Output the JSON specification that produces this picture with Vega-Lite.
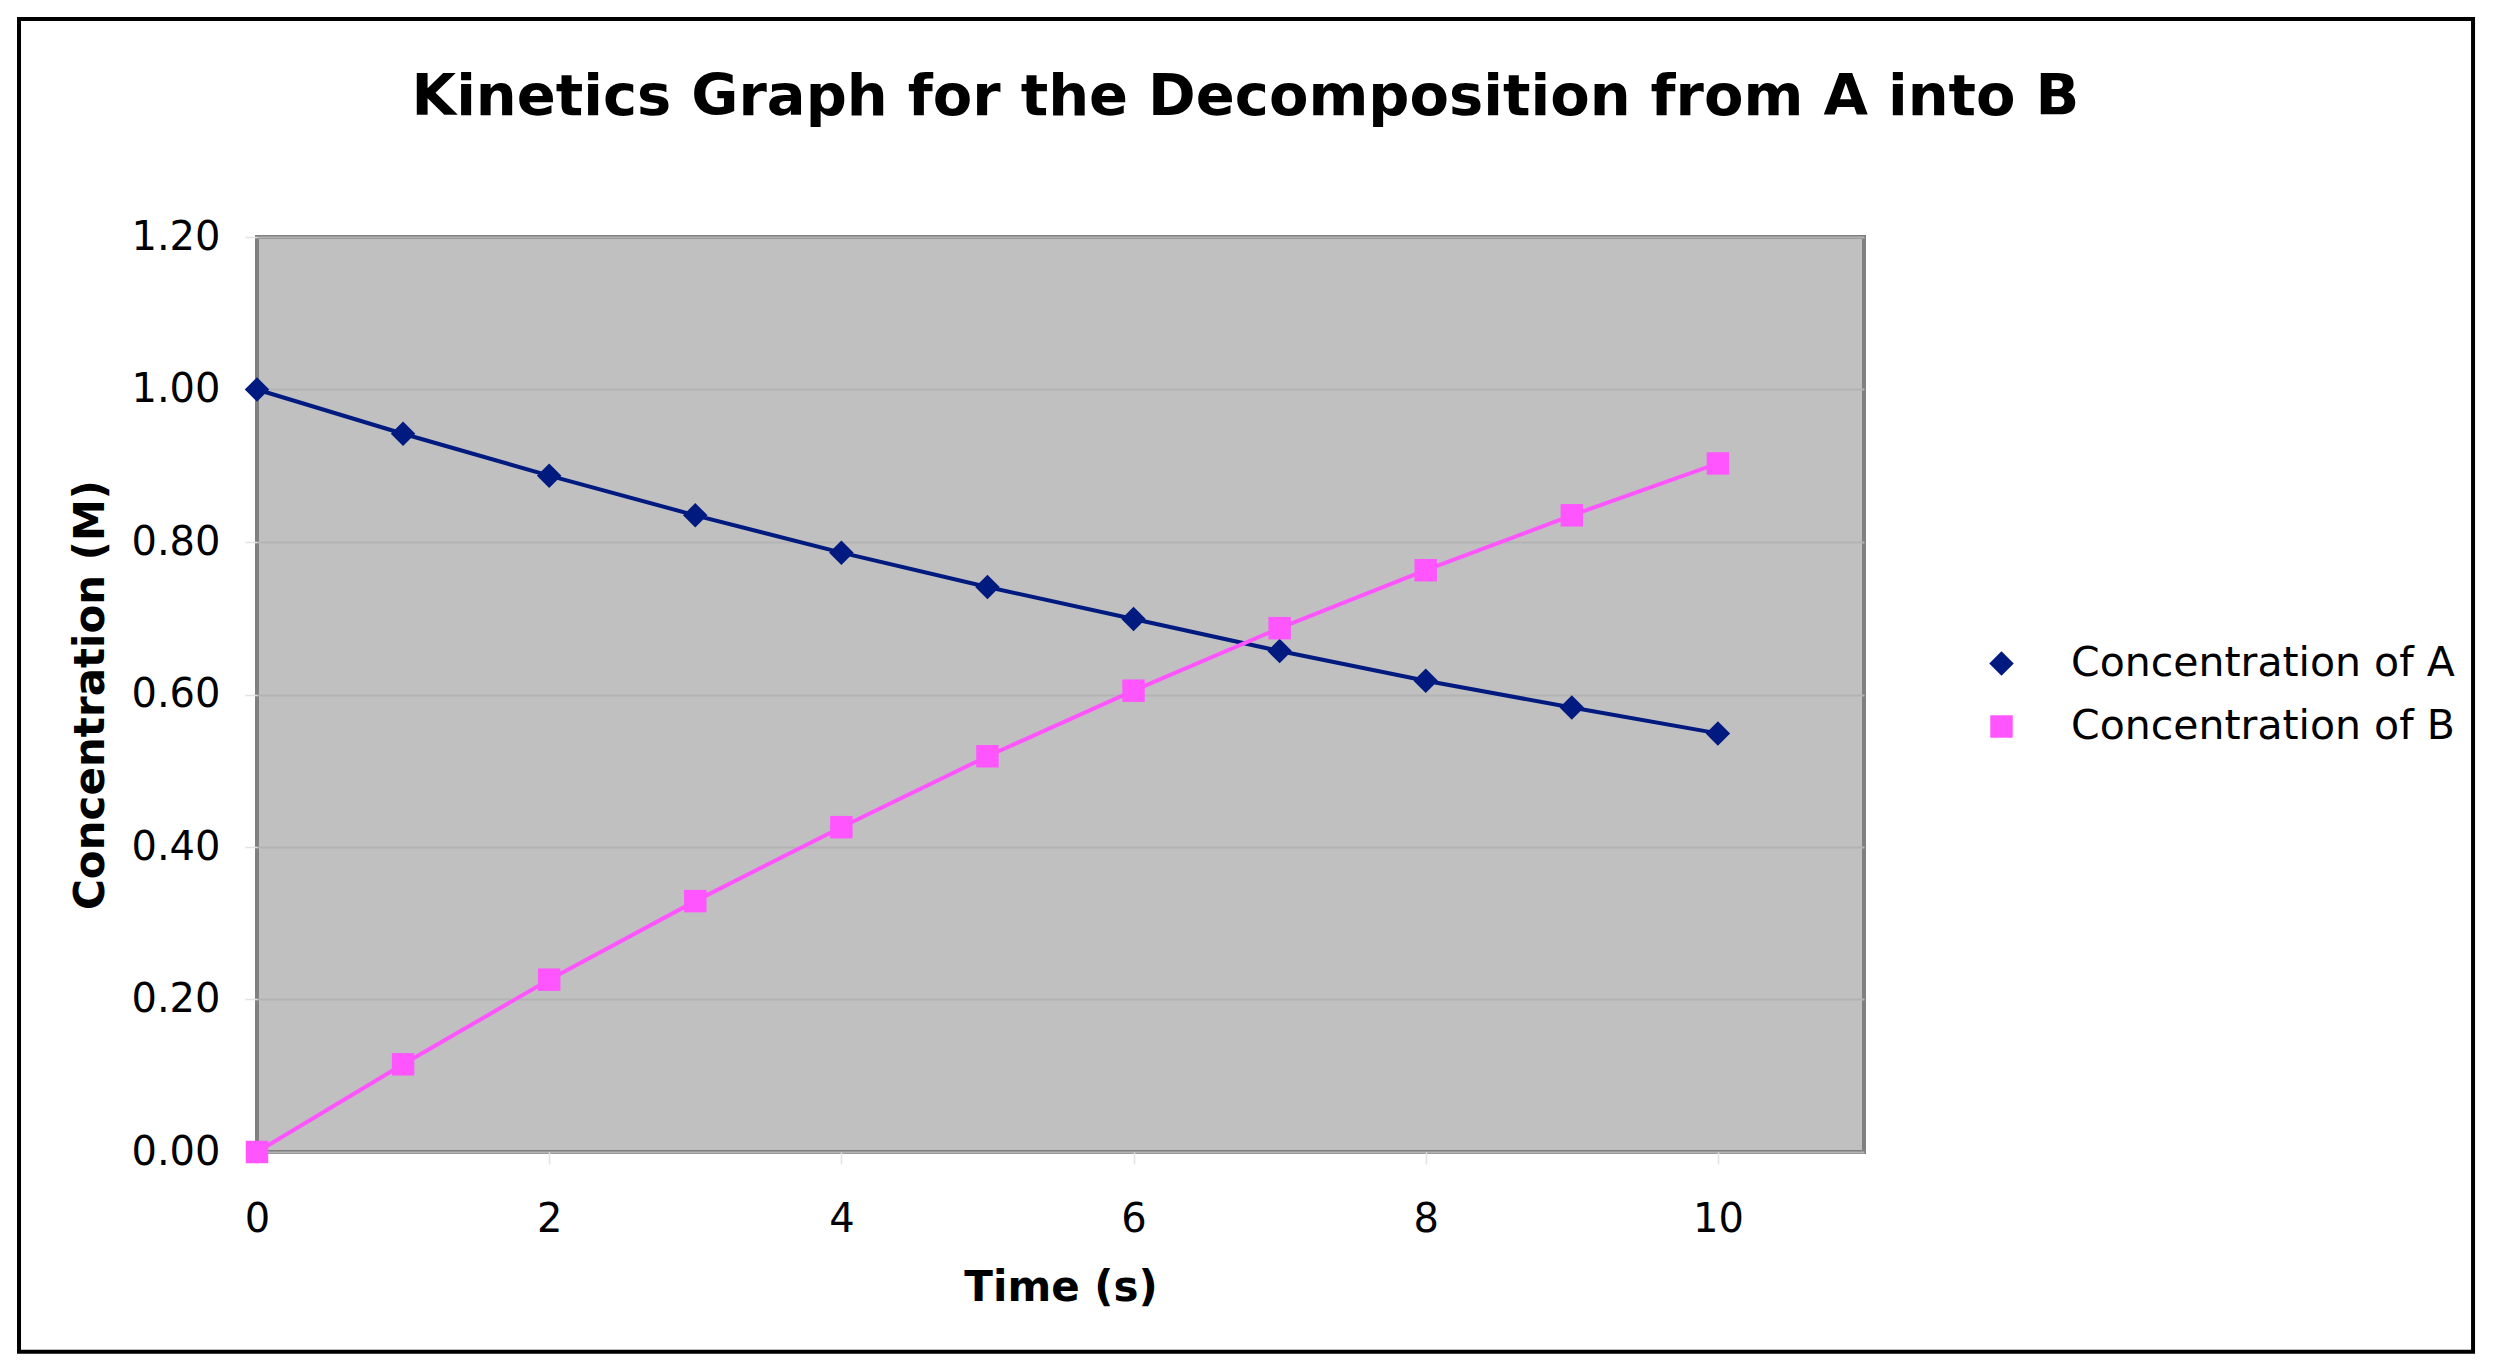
{
  "$schema": "https://vega.github.io/schema/vega-lite/v6.json",
  "width": 1607,
  "height": 915,
  "autosize": {"type": "none"},
  "padding": {"left": 257, "top": 237, "right": 629, "bottom": 220},
  "background": "white",
  "config": {
    "view": {"fill": "#C0C0C0", "stroke": "#808080", "strokeWidth": 4},
    "font": "DejaVu Sans"
  },
  "title": {
    "text": "Kinetics Graph for the Decomposition from A into B",
    "font": "DejaVu Sans",
    "fontSize": 57.5,
    "fontWeight": "bold",
    "color": "black",
    "anchor": "middle",
    "frame": "group",
    "dx": 185,
    "dy": 156,
    "offset": 0,
    "baseline": "alphabetic"
  },
  "data": {
    "values": [
      {"t": 0, "series": "Concentration of A", "c": 1.0},
      {"t": 1, "series": "Concentration of A", "c": 0.942},
      {"t": 2, "series": "Concentration of A", "c": 0.887},
      {"t": 3, "series": "Concentration of A", "c": 0.835},
      {"t": 4, "series": "Concentration of A", "c": 0.786},
      {"t": 5, "series": "Concentration of A", "c": 0.741},
      {"t": 6, "series": "Concentration of A", "c": 0.699},
      {"t": 7, "series": "Concentration of A", "c": 0.657},
      {"t": 8, "series": "Concentration of A", "c": 0.618},
      {"t": 9, "series": "Concentration of A", "c": 0.583},
      {"t": 10, "series": "Concentration of A", "c": 0.549},
      {"t": 0, "series": "Concentration of B", "c": 0.0},
      {"t": 1, "series": "Concentration of B", "c": 0.115},
      {"t": 2, "series": "Concentration of B", "c": 0.226},
      {"t": 3, "series": "Concentration of B", "c": 0.329},
      {"t": 4, "series": "Concentration of B", "c": 0.426},
      {"t": 5, "series": "Concentration of B", "c": 0.519},
      {"t": 6, "series": "Concentration of B", "c": 0.605},
      {"t": 7, "series": "Concentration of B", "c": 0.687},
      {"t": 8, "series": "Concentration of B", "c": 0.763},
      {"t": 9, "series": "Concentration of B", "c": 0.835},
      {"t": 10, "series": "Concentration of B", "c": 0.903}
    ]
  },
  "layer": [
    {
      "data": {"values": [{}]},
      "mark": {"type": "rect", "fill": null, "stroke": "black", "strokeWidth": 4, "clip": false},
      "encoding": {
        "x": {"datum": -1.629, "type": "quantitative"},
        "x2": {"datum": 15.169},
        "y": {"datum": 1.486, "type": "quantitative"},
        "y2": {"datum": -0.262}
      }
    },
    {
      "mark": {"type": "line", "strokeWidth": 4},
      "encoding": {
        "x": {
          "field": "t", "type": "quantitative",
          "scale": {"domain": [0, 11], "nice": false, "zero": false},
          "axis": {
            "title": "Time (s)",
            "values": [0, 2, 4, 6, 8, 10],
            "format": "d",
            "grid": false, "domain": false,
            "tickSize": 12, "tickColor": "#E2E2E2", "tickWidth": 1.5,
            "labelFont": "DejaVu Sans", "labelFontSize": 40, "labelColor": "black",
            "labelPadding": 35, "labelFlush": false,
            "titleFont": "DejaVu Sans", "titleFontSize": 42, "titleFontWeight": "bold",
            "titleColor": "black", "titlePadding": 28
          }
        },
        "y": {
          "field": "c", "type": "quantitative",
          "scale": {"domain": [0, 1.2], "nice": false, "zero": false},
          "axis": {
            "title": "Concentration (M)",
            "values": [0, 0.2, 0.4, 0.6, 0.8, 1.0, 1.2],
            "format": ".2f",
            "grid": true, "gridColor": "#B3B3B3", "gridWidth": 2,
            "domain": false,
            "tickSize": 12, "tickColor": "#E2E2E2", "tickWidth": 1.5,
            "labelFont": "DejaVu Sans", "labelFontSize": 40, "labelColor": "black",
            "labelPadding": 25, "labelFlush": false,
            "titleFont": "DejaVu Sans", "titleFontSize": 42, "titleFontWeight": "bold",
            "titleColor": "black", "titlePadding": 18
          }
        },
        "color": {
          "field": "series", "type": "nominal",
          "scale": {"domain": ["Concentration of A", "Concentration of B"], "range": ["#001A80", "#FF55FF"]}
        }
      }
    },
    {
      "mark": {"type": "point", "filled": true, "opacity": 1, "size": 600},
      "encoding": {
        "x": {"field": "t", "type": "quantitative"},
        "y": {"field": "c", "type": "quantitative"},
        "color": {
          "field": "series", "type": "nominal",
          "legend": {
            "title": null, "orient": "none", "legendX": 1724, "legendY": 406, "padding": 0,
            "symbolSize": 600, "symbolStrokeWidth": 0,
            "labelFont": "DejaVu Sans", "labelFontSize": 41, "labelColor": "black",
            "labelLimit": 0, "labelOffset": 49, "rowPadding": 21
          }
        },
        "shape": {
          "field": "series", "type": "nominal",
          "scale": {"domain": ["Concentration of A", "Concentration of B"], "range": ["M0,-1L1,0L0,1L-1,0Z", "M-0.917,-0.917H0.917V0.917H-0.917Z"]}
        }
      }
    }
  ]
}
